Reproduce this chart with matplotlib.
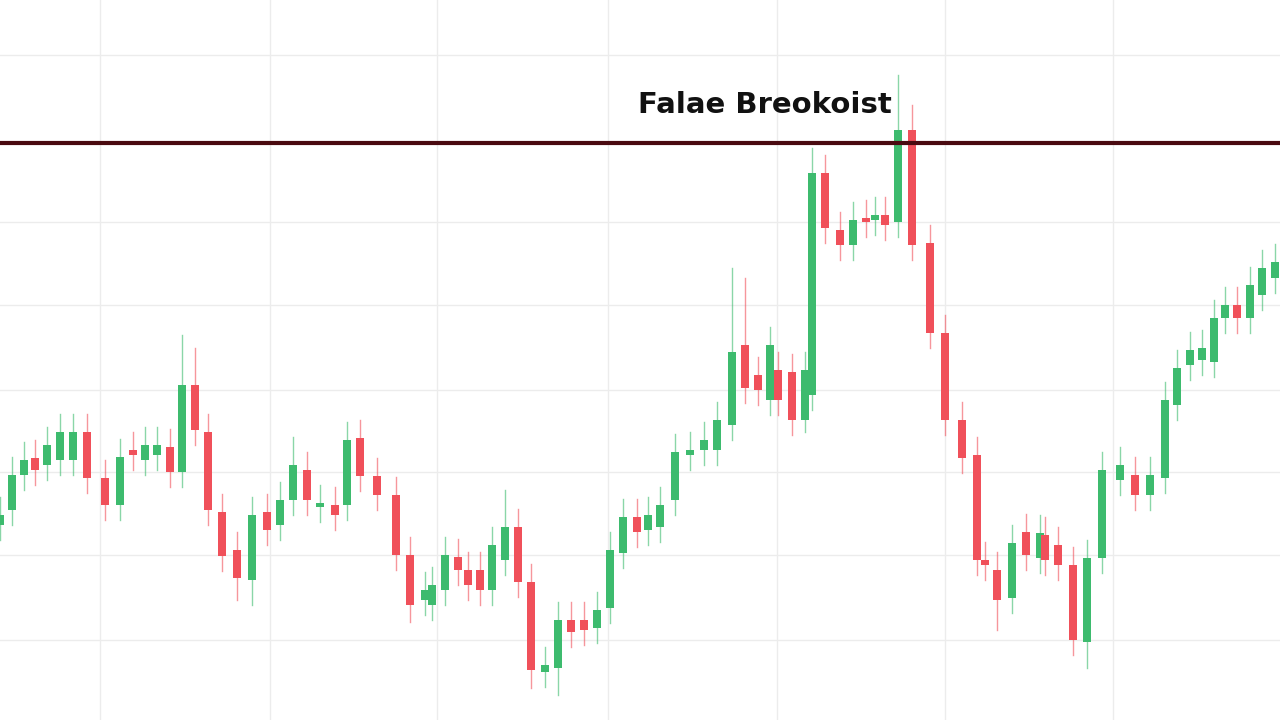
import matplotlib
matplotlib.use("Agg")
import matplotlib.pyplot as plt

# candle position, body top, body bottom (chart level units, top of chart = 0), colour, wick high, wick low
xs = [0,12,24,35,47,60,73,87,105,120,133,145,157,170,182,195,208,222,237,252,267,280,293,307,320,335,347,360,377,396,410,425,432,445,458,468,480,492,505,518,531,545,558,571,584,597,610,623,637,648,660,675,690,704,717,732,745,758,770,778,792,805,812,825,840,853,866,875,885,898,912,930,945,962,977,985,997,1012,1026,1040,1045,1058,1073,1087,1102,1120,1135,1150,1165,1177,1190,1202,1214,1225,1237,1250,1262,1275]
tops = [515,475,460,458,445,432,432,432,478,457,450,445,445,447,385,385,432,512,550,515,512,500,465,470,503,505,440,438,476,495,555,590,585,555,557,570,570,545,527,527,582,665,620,620,620,610,550,517,517,515,505,452,450,440,420,352,345,375,345,370,372,370,173,173,230,220,218,215,215,130,130,243,333,420,455,560,570,543,532,533,535,545,565,558,470,465,475,475,400,368,350,348,318,305,305,285,268,262]
bots = [525,510,475,470,465,460,460,478,505,505,455,460,455,472,472,430,510,556,578,580,530,525,500,500,507,515,505,476,495,555,605,600,605,590,570,585,590,590,560,582,670,672,668,632,630,628,608,553,532,530,527,500,455,450,450,425,388,390,400,400,420,420,395,228,245,245,222,220,225,222,245,333,420,458,560,565,600,598,555,558,560,565,640,642,558,480,495,495,478,405,365,360,362,318,318,318,295,278]
colors = ['g','g','g','r','g','g','g','r','r','g','r','g','g','r','g','r','r','r','r','g','r','g','g','r','g','r','g','r','r','r','r','g','g','g','r','r','r','g','g','r','r','g','g','r','r','g','g','g','r','g','g','g','g','g','g','g','r','r','g','r','r','g','g','r','r','g','r','g','r','g','r','r','r','r','r','r','r','g','r','g','r','r','r','g','g','g','r','g','g','g','g','g','g','g','r','g','g','g']
highs = {182:335,195:348,293:437,505:490,732:268,745:278,812:148,898:75,912:105}
lows = {237:600,252:605,410:622,531:688,558:695,805:432,997:630,1073:655,1087:668}

level_y = 143
label = "Falae Breokoist"

GREEN = "#3dbb6e"
RED = "#f0505a"

fig = plt.figure(figsize=(12.8, 7.2), dpi=100)
ax = fig.add_axes([0, 0, 1, 1])
ax.set_xlim(0, 1280)
ax.set_ylim(720, 0)
ax.axis("off")

for gx in [100, 270, 437, 608, 777, 945, 1113]:
    ax.axvline(gx, color="#ececec", lw=1, zorder=0)
for gy in [55, 222, 305, 390, 472, 555, 640]:
    ax.axhline(gy, color="#ececec", lw=1, zorder=0)

for x, t, b, c in zip(xs, tops, bots, colors):
    col = GREEN if c == 'g' else RED
    h = highs.get(x) or t - 18
    l = lows.get(x) or b + 15
    ax.plot([x, x], [h, l], color=col, lw=1.0, alpha=0.6, zorder=2)
    ax.bar(x, b - t, bottom=t, width=8, color=col, zorder=3)

ax.axhline(level_y, color="#4a0a10", lw=3, zorder=4)
ax.text(765, 105, label, fontsize=21, fontweight="semibold", ha="center", va="center", color="#111111", zorder=5)

fig.savefig("out.png", dpi=100)
